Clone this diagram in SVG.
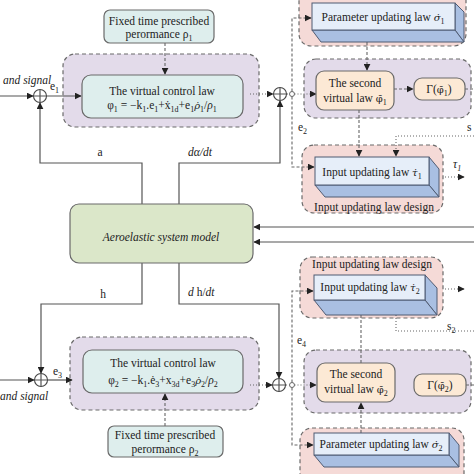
<svg xmlns="http://www.w3.org/2000/svg" width="474" height="474" viewBox="0 0 474 474">
<style>
.t{font-family:"Liberation Serif","DejaVu Serif",serif;font-size:11.5px;fill:#222;text-anchor:middle}
.s{text-anchor:start}
.i{font-style:italic}
.m{font-family:"DejaVu Serif",serif;font-size:10px}
.sb{font-size:8px;baseline-shift:-3px}
.ln{stroke:#555;stroke-width:1.2;fill:none}
.da{stroke:#666;stroke-width:1.1;stroke-dasharray:3 2;fill:none}
.do{stroke:#666;stroke-width:1.1;stroke-dasharray:1 2;fill:none}
.reg{stroke:#6a6a6a;stroke-width:1.2;stroke-dasharray:4 3}
.pur{fill:#e3dbea}
.pink{fill:#f5dad7}
.teal{fill:#deeeed;stroke:#6a6a6a;stroke-width:1.2}
.peach{fill:#fce9d5;stroke:#6a6a6a;stroke-width:1.2}
.front{fill:#e6eef9;stroke:#4f5b72;stroke-width:1}
.side{fill:#a9bfe2;stroke:#4f5b72;stroke-width:1}
.green{fill:#dbe7c9;stroke:#6a6a6a;stroke-width:1.2}
.sum{fill:#fff;stroke:#444;stroke-width:1.1}
</style>
<defs>
<marker id="ah" viewBox="0 0 10 10" refX="9" refY="5" markerWidth="7" markerHeight="7" markerUnits="userSpaceOnUse" orient="auto"><path d="M0,0 L10,5 L0,10 z" fill="#222"/></marker>
</defs>

<!-- regions -->
<g id="region-vcl1"><rect class="reg pur" x="63" y="54" width="196" height="73" rx="12"/></g>
<g id="region-param1"><rect class="reg pink" x="299" y="-12" width="167" height="58" rx="12"/></g>
<g id="region-svl1"><rect class="reg pur" x="304" y="59" width="167" height="59" rx="12"/></g>
<g id="region-input1"><rect class="reg pink" x="302" y="145" width="141" height="68" rx="12"/>
<text class="t" x="374" y="211">Input updating law design</text></g>
<g id="region-input2"><rect class="reg pink" x="300" y="257" width="143" height="61" rx="12"/>
<text class="t" x="372" y="268">Input updating law design</text></g>
<g id="region-svl2"><rect class="reg pur" x="304" y="350" width="167" height="63" rx="12"/></g>
<g id="region-vcl2"><rect class="reg pur" x="70" y="337" width="189" height="73" rx="12"/></g>
<g id="region-param2"><rect class="reg pink" x="300" y="428" width="164" height="60" rx="12"/></g>

<!-- connectors -->
<g id="connectors">
<path class="da" d="M165,43 L165,74" marker-end="url(#ah)"/>
<path class="da" d="M165,426 L165,394" marker-end="url(#ah)"/>
<path class="ln" d="M0,96 L33,96" marker-end="url(#ah)"/>
<path class="ln" d="M47,96 L81,96" marker-end="url(#ah)"/>
<path class="ln" d="M142,204 L142,163 L40,163 L40,103" marker-end="url(#ah)"/>
<path class="ln" d="M179,204 L179,163 L280,163 L280,101" marker-end="url(#ah)"/>
<path class="do" d="M250,94 L273,94" marker-end="url(#ah)"/>
<path class="do" d="M287,94 L289.5,94"/>
<path class="do" d="M294.5,94 L316,94" marker-end="url(#ah)"/>
<path class="da" d="M292,91.5 L292,18 L311,18" marker-end="url(#ah)"/>
<path class="da" d="M292,96.5 L292,167 L314,167" marker-end="url(#ah)"/>
<path class="da" d="M367,42 L367,70" marker-end="url(#ah)"/>
<path class="da" d="M394,89 L413,89" marker-end="url(#ah)"/>
<path class="da" d="M465,89 L474,89"/>
<path class="da" d="M359,110 L359,156" marker-end="url(#ah)"/>
<path class="do" d="M474,136 L396,136 L396,156" marker-end="url(#ah)"/>
<path class="do" d="M445,177 L464,177" marker-end="url(#ah)"/>
<path class="ln" d="M474,227 L254,227" marker-end="url(#ah)"/>
<path class="ln" d="M474,242 L254,242" marker-end="url(#ah)"/>

<path class="ln" d="M0,380 L34,380" marker-end="url(#ah)"/>
<path class="ln" d="M48,380 L72,380" marker-end="url(#ah)"/>
<path class="ln" d="M142,263 L142,304 L41,304 L41,373" marker-end="url(#ah)"/>
<path class="ln" d="M179,263 L179,304 L279,304 L279,378" marker-end="url(#ah)"/>
<path class="do" d="M250,385 L272,385" marker-end="url(#ah)"/>
<path class="do" d="M286,385 L289.5,385"/>
<path class="do" d="M294.5,385 L316,385" marker-end="url(#ah)"/>
<path class="da" d="M292,382.5 L292,291 L313,291" marker-end="url(#ah)"/>
<path class="da" d="M292,387.5 L292,445 L313,445" marker-end="url(#ah)"/>
<path class="da" d="M361,433 L361,403" marker-end="url(#ah)"/>
<path class="da" d="M361,363 L361,307" marker-end="url(#ah)"/>
<path class="do" d="M474,331 L396,331 L396,307" marker-end="url(#ah)"/>
<path class="do" d="M445,289 L464,289" marker-end="url(#ah)"/>
<path class="da" d="M466,385 L474,385"/>

<circle cx="292" cy="94" r="2.5" fill="#fff" stroke="#666" stroke-width="1"/>
<circle cx="292" cy="385" r="2.5" fill="#fff" stroke="#666" stroke-width="1"/>
</g>

<!-- sum junctions -->
<g id="sum1"><circle class="sum" cx="40" cy="96" r="6.5"/><path class="ln" d="M33.5,96 H46.5 M40,89.5 V102.5"/></g>
<g id="sum2"><circle class="sum" cx="280" cy="94" r="6.5"/><path class="ln" d="M273.5,94 H286.5 M280,87.5 V100.5"/></g>
<g id="sum3"><circle class="sum" cx="41" cy="380" r="6.5"/><path class="ln" d="M34.5,380 H47.5 M41,373.5 V386.5"/></g>
<g id="sum4"><circle class="sum" cx="279" cy="385" r="6.5"/><path class="ln" d="M272.5,385 H285.5 M279,378.5 V391.5"/></g>

<!-- labels -->
<g id="labels">
<text class="t s i" x="3" y="84">and signal</text>
<text class="t s i" x="0" y="400">and signal</text>
<text class="t s" x="50" y="90">e<tspan class="sb">1</tspan></text>
<text class="t s" x="53" y="375">e<tspan class="sb">3</tspan></text>
<text class="t s" x="298" y="131">e<tspan class="sb">2</tspan></text>
<text class="t s" x="297" y="344">e<tspan class="sb">4</tspan></text>
<text class="t" x="100" y="156">a</text>
<text class="t s i" x="188" y="156">dα/dt</text>
<text class="t" x="103" y="298">h</text>
<text class="t s" x="188" y="296"><tspan class="i">d</tspan> h/<tspan class="i">dt</tspan></text>
<text class="t s" x="467" y="131">s</text>
<text class="t s" x="447" y="330">s<tspan class="sb">2</tspan></text>
<text class="t s i" x="453" y="168">τ<tspan class="sb">1</tspan></text>
</g>

<!-- nodes -->
<g id="fixed1"><rect class="teal" x="104" y="10" width="110" height="33" rx="6"/>
<text class="t" x="159" y="25">Fixed time prescribed</text>
<text class="t" x="159" y="38">perormance ρ<tspan class="sb">1</tspan></text></g>

<g id="vcl1"><rect class="teal" x="82" y="75" width="161" height="43" rx="9"/>
<text class="t" x="162" y="95">The virtual control law</text>
<text class="t" x="162" y="109">φ<tspan class="sb">1</tspan> = −k<tspan class="sb">1</tspan>.e<tspan class="sb">1</tspan>+ẋ<tspan class="sb">1d</tspan>+e<tspan class="sb">1</tspan><tspan class="m i">ρ̇</tspan><tspan class="sb">1</tspan>/<tspan class="i">ρ</tspan><tspan class="sb">1</tspan></text></g>

<g id="param1">
<polygon class="side" points="455,3 464,12 464,42 455,30"/>
<polygon class="side" points="312,30 455,30 464,42 321,42"/>
<rect class="front" x="312" y="3" width="143" height="27"/>
<text class="t" x="383" y="21">Parameter updating law <tspan class="m i">σ̇</tspan><tspan class="sb">1</tspan></text></g>

<g id="svl1"><rect class="peach" x="316" y="71" width="78" height="39" rx="8"/>
<text class="t" x="355" y="87">The second</text>
<text class="t" x="355" y="102">virtual law <tspan class="m">φ̄</tspan><tspan class="sb">1</tspan></text></g>

<g id="gamma1"><rect class="peach" x="414" y="78" width="51" height="22" rx="8"/>
<text class="t" x="439" y="93">Γ(<tspan class="m">φ̄</tspan><tspan class="sb">1</tspan>)</text></g>

<g id="input1">
<polygon class="side" points="429,157 439,169 439,197 429,185"/>
<polygon class="side" points="315,185 429,185 439,197 325,197"/>
<rect class="front" x="315" y="157" width="114" height="28"/>
<text class="t" x="372" y="176">Input updating law <tspan class="m i">τ̇</tspan><tspan class="sb">1</tspan></text></g>

<g id="model"><rect class="green" x="70" y="204" width="183" height="59" rx="9"/>
<text class="t i" x="161" y="241">Aeroelastic system model</text></g>

<g id="input2">
<polygon class="side" points="425,275 437,288 437,315 425,300"/>
<polygon class="side" points="314,300 425,300 437,315 326,315"/>
<rect class="front" x="314" y="275" width="111" height="25"/>
<text class="t" x="370" y="291">Input updating law <tspan class="m i">τ̇</tspan><tspan class="sb">2</tspan></text></g>

<g id="vcl2"><rect class="teal" x="83" y="350" width="160" height="43" rx="9"/>
<text class="t" x="163" y="367">The virtual control law</text>
<text class="t" x="163" y="384">φ<tspan class="sb">2</tspan> = −k<tspan class="sb">1</tspan>.ė<tspan class="sb">3</tspan>+x<tspan class="sb">3d</tspan>+e<tspan class="sb">3</tspan><tspan class="m i">ρ̇</tspan><tspan class="sb">2</tspan>/<tspan class="i">ρ</tspan><tspan class="sb">2</tspan></text></g>

<g id="svl2"><rect class="peach" x="317" y="363" width="78" height="39" rx="8"/>
<text class="t" x="356" y="378">The second</text>
<text class="t" x="356" y="393">virtual law <tspan class="m">φ̄</tspan><tspan class="sb">2</tspan></text></g>

<g id="gamma2"><rect class="peach" x="414" y="374" width="52" height="22" rx="8"/>
<text class="t" x="440" y="389">Γ(<tspan class="m">φ̄</tspan><tspan class="sb">2</tspan>)</text></g>

<g id="param2">
<polygon class="side" points="449,433 459,445 459,467 449,455"/>
<polygon class="side" points="314,455 449,455 459,467 324,467"/>
<rect class="front" x="314" y="433" width="135" height="22"/>
<text class="t" x="381" y="448">Parameter updating law <tspan class="m i">σ̇</tspan><tspan class="sb">2</tspan></text></g>

<g id="fixed2"><rect class="teal" x="108" y="426" width="115" height="31" rx="6"/>
<text class="t" x="165" y="439">Fixed time prescribed</text>
<text class="t" x="165" y="453">perormance ρ<tspan class="sb">2</tspan></text></g>
</svg>
